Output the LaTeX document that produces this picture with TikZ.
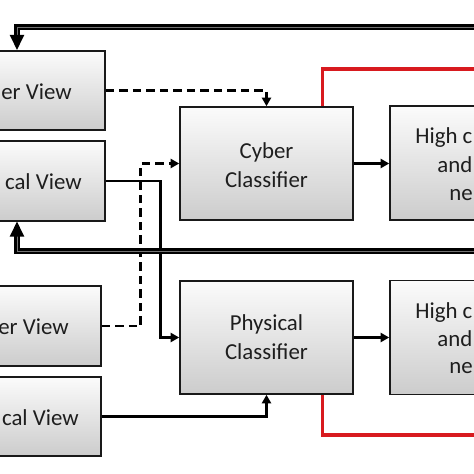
\documentclass[tikz,border=0pt]{standalone}
\usepackage{fontspec}
\setmainfont{Carlito}
\usetikzlibrary{arrows.meta,positioning}
\definecolor{txtgray}{HTML}{1E1E1E}
\definecolor{alarmred}{HTML}{D81A1F}

\begin{document}
\begin{tikzpicture}[
  x=0.2mm, y=-0.2mm,
  font=\fontsize{13}{16}\selectfont,
  >={Triangle[length=1.7mm,width=1.8mm]},
  box/.style={draw=black!90,line width=0.9pt,top color=gray!3,bottom color=gray!40,inner sep=0pt,align=center,text=txtgray},
  viewbox/.style={box,minimum width=35.2mm,minimum height=15.9mm},
  clsbox/.style={box,minimum width=34.6mm,minimum height=22.6mm},
  outbox/.style={box,minimum width=36mm,minimum height=22.8mm},
  lbl/.style={text=txtgray,inner sep=0pt},
  conn/.style={line width=1.7pt,->},
  dconn/.style={conn,dash pattern=on 1.7mm off 1mm},
  alarm/.style={draw=alarmred,line width=1.8pt},
  fb/.style={line width=1.3pt,double=black!55,double distance=0.4pt,-{Triangle[length=3mm,width=2.8mm]}},
]
\useasboundingbox (0,0) rectangle (474,474);
\clip (0,0) rectangle (474,474);

% ---- views (left column)
\node[viewbox] (cv1) at (17,90.5) {};
\node[viewbox] (pv1) at (17,181) {};
\node[viewbox] (cv2) at (13,326) {};
\node[viewbox] (pv2) at (13,416.5) {};
\node[lbl,anchor=base east] (cv1txt) at (72,99) {er View};
\node[lbl,anchor=base east] (pv1txt) at (82,189) {cal View};
\node[lbl,anchor=base east] (cv2txt) at (69,334) {er View};
\node[lbl,anchor=base east] (pv2txt) at (79,425.5) {cal View};

% ---- classifiers
\node[clsbox] (cc) at (266.5,163.5) {};
\node[clsbox] (pc) at (266.5,337.5) {};
\node[lbl,align=center,anchor=base] (cctxt) at (266.5,187) {Cyber\\Classifier};
\node[lbl,align=center,anchor=base] (pctxt) at (266.5,359) {Physical\\Classifier};

% ---- outputs (cut at the right edge)
\node[outbox] (hi1) at (480,163) {};
\node[outbox] (hi2) at (480,337.5) {};
\node[lbl,anchor=base west] (hi1a) at (415,143) {High c};
\node[lbl,anchor=base west] (hi1b) at (437,172) {and};
\node[lbl,anchor=base west] (hi1c) at (449,200) {ne};
\node[lbl,anchor=base west] (hi2a) at (415,318) {High c};
\node[lbl,anchor=base west] (hi2b) at (437,346) {and};
\node[lbl,anchor=base west] (hi2c) at (449,373) {ne};

% ---- view -> classifier
\draw[dconn] (cv1.east) -| (cc.north);
\draw[dconn] (cv2.east) -- ++(39,0) |- (cc.west);
\draw[conn] (pv1.east) -- ++(55,0) |- (pc.west);
\draw[conn] (pv2.east) -| (pc.south);
\draw[conn] (cc.east) -- (cc.east -| hi1.west);
\draw[conn] (pc.east) -- (pc.east -| hi2.west);

% ---- red lines
\coordinate (alarmtop) at (480,69);
\coordinate (alarmbot) at (480,435);
\draw[alarm] ([xshift=-6.2mm]cc.north east) |- (alarmtop);
\draw[alarm] ([xshift=-6.2mm]pc.south east) |- (alarmbot);

% ---- feedback
\coordinate (fbtop) at (480,27);
\coordinate (fbmid) at (480,251);
\draw[fb] (fbtop) -| (cv1.north);
\draw[fb] (fbmid) -| (pv1.south);

\end{tikzpicture}
\end{document}
